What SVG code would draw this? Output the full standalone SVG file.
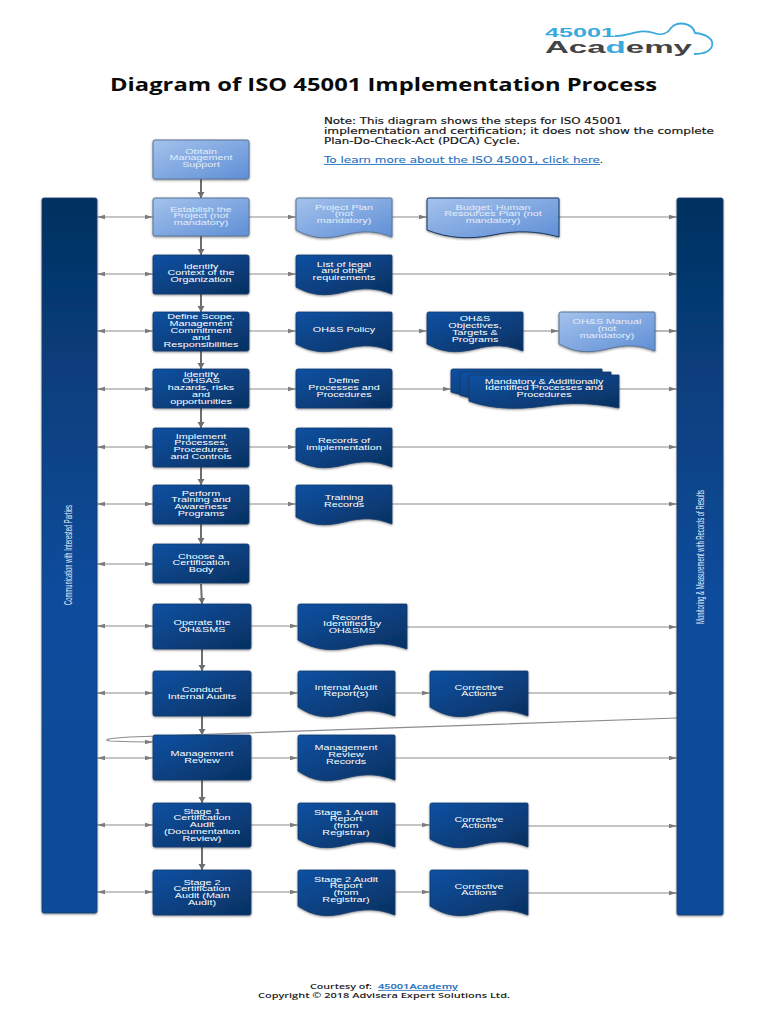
<svg xmlns="http://www.w3.org/2000/svg" width="768" height="1024" viewBox="0 0 768 1024">
<style>
.t{font:7.2px "Liberation Sans",Arial,sans-serif;fill:#fff;text-anchor:middle}
.l{fill:#e3edf9}
.d{fill:url(#dark);stroke:#0d3a70;stroke-width:.8;filter:url(#sh)}
.p{fill:url(#light);stroke:#5b7598;stroke-width:1;filter:url(#sh)}
.pd{fill:url(#light);stroke:#17375f;stroke-width:1;filter:url(#sh)}
.h{fill:none;stroke:#8c8c8c;stroke-width:1.2;marker-end:url(#a)}
.b{marker-start:url(#as)}
.v{fill:none;stroke:#6e6e6e;stroke-width:2;marker-end:url(#va)}
.note{font:8.4px "DejaVu Sans",sans-serif;fill:#111;stroke:#111;stroke-width:.15}
.foot{font:600 7.2px "Open Sans",sans-serif;fill:#222}
.link{fill:#1f6fc0;stroke:#1f6fc0;stroke-width:.1;text-decoration:underline}
.bar{font:11px "Liberation Sans",Arial,sans-serif;fill:#e3edf9;text-anchor:middle}
</style>
<defs>
<linearGradient id="dark" x1="0" y1="0" x2="1" y2="1"><stop offset="0" stop-color="#0a51a3"/><stop offset="1" stop-color="#06305f"/></linearGradient>
<linearGradient id="light" x1="0" y1="0" x2="1" y2="1"><stop offset="0" stop-color="#a4c2ec"/><stop offset="1" stop-color="#5f8fd6"/></linearGradient>
<linearGradient id="barG" x1="0" y1="0" x2="0" y2="1"><stop offset="0" stop-color="#04305f"/><stop offset=".12" stop-color="#06386f"/><stop offset=".55" stop-color="#0a4c9c"/><stop offset="1" stop-color="#0a4c98"/></linearGradient>
<filter id="sh" x="-10%" y="-10%" width="120%" height="125%"><feDropShadow dx="0" dy="1" stdDeviation="1" flood-color="#333" flood-opacity=".55"/></filter>
<marker id="a" markerUnits="userSpaceOnUse" markerWidth="9" markerHeight="6" refX="8" refY="3" orient="auto"><path d="M0 .8L8 3L0 5.2z" fill="#7c7c7c"/></marker>
<marker id="as" markerUnits="userSpaceOnUse" markerWidth="9" markerHeight="6" refX="0" refY="3" orient="auto"><path d="M8 .8L0 3L8 5.2z" fill="#7c7c7c"/></marker>
<marker id="va" markerUnits="userSpaceOnUse" markerWidth="8" markerHeight="8" refX="6" refY="3.5" orient="auto"><path d="M0 0L6 3.5L0 7z" fill="#6e6e6e"/></marker>
</defs>
<rect width="768" height="1024" fill="#fff"/>

<g id="logo">
<path d="M615 36C630 36 640 28 654 33C662 36 668 33 671 28C677 21 692 22 695 33C706 34 714 39 712 46C710 52 702 54 694 54" fill="none" stroke="#3aa9dc" stroke-width="1.8"/>
<text x="545" y="37" font-family="Liberation Sans" font-weight="700" font-size="12" fill="#3aa9dc" textLength="70" lengthAdjust="spacingAndGlyphs">45001</text>
<text x="545" y="53" font-family="Liberation Sans" font-weight="700" font-size="17" fill="#444" textLength="147" lengthAdjust="spacingAndGlyphs">Aca<tspan fill="#3aa9dc">d</tspan>emy</text>
</g>
<text id="title" x="110" y="91" font-family="Open Sans" font-weight="700" font-size="17" fill="#0a0a0a" textLength="547" lengthAdjust="spacingAndGlyphs">Diagram of ISO 45001 Implementation Process</text>
<g id="note">
<text class="note" x="324" y="123.5" textLength="298" lengthAdjust="spacingAndGlyphs">Note: This diagram shows the steps for ISO 45001</text>
<text class="note" x="324" y="133.5" textLength="390" lengthAdjust="spacingAndGlyphs">implementation and certification; it does not show the complete</text>
<text class="note" x="324" y="143.5" textLength="196" lengthAdjust="spacingAndGlyphs">Plan-Do-Check-Act (PDCA) Cycle.</text>
<text class="note link" x="324" y="163" textLength="276" lengthAdjust="spacingAndGlyphs">To learn more about the ISO 45001, click here</text>
<text class="note" x="600" y="163">.</text>
</g>

<g id="connectors">
<path class="v" d="M201 179V198"/><path class="v" d="M201 236V255"/><path class="v" d="M201 294V312"/><path class="v" d="M201 351V369"/><path class="v" d="M201 408V428"/><path class="v" d="M201 467V485"/><path class="v" d="M201 524V544"/><path class="v" d="M201 584L202 604"/><path class="v" d="M202 649V671"/><path class="v" d="M202 716V735"/><path class="v" d="M202 780V803"/><path class="v" d="M202 847V870"/>
<path class="h b" d="M97 217H153"/><path class="h b" d="M97 274H153"/><path class="h b" d="M97 331H153"/><path class="h b" d="M97 389H153"/><path class="h b" d="M97 447H153"/><path class="h b" d="M97 504H153"/><path class="h b" d="M97 564H153"/><path class="h b" d="M97 626H153"/><path class="h b" d="M97 693H153"/><path class="h b" d="M97 758H153"/><path class="h b" d="M97 825H153"/><path class="h b" d="M97 892H153"/>
<path class="h" d="M249 217H296"/><path class="h" d="M392 217H427"/><path class="h" d="M559 217H677"/>
<path class="h" d="M249 274H296"/><path class="h" d="M392 274H677"/>
<path class="h" d="M249 331H296"/><path class="h" d="M392 331H427"/><path class="h" d="M523 331H559"/><path class="h" d="M655 331H677"/>
<path class="h" d="M249 389H296"/><path class="h" d="M392 389H451"/><path class="h" d="M619 389H677"/>
<path class="h" d="M249 447H296"/><path class="h" d="M392 447H677"/>
<path class="h" d="M249 504H296"/><path class="h" d="M392 504H677"/>
<path class="h" d="M251 626H298"/><path class="h" d="M407 627H677"/>
<path class="h" d="M251 693H298"/><path class="h" d="M395 693H430"/><path class="h" d="M528 693H677"/>
<path class="h" d="M251 758H298"/><path class="h" d="M395 758H677"/>
<path class="h" d="M251 825H298"/><path class="h" d="M395 825H430"/><path class="h" d="M528 826H677"/>
<path class="h" d="M251 892H298"/><path class="h" d="M395 892H430"/><path class="h" d="M528 893H677"/>
<path class="h" d="M677 718L130 737Q98 739 110 741Q130 742 153 742"/>
</g>

<g id="bar-left"><rect class="d" style="fill:url(#barG)" x="42" y="198" width="55" height="715" rx="2"/><text class="bar" transform="translate(72 555) rotate(-90)" textLength="100" lengthAdjust="spacingAndGlyphs">Communication with Interested Parties</text></g>
<g id="bar-right"><rect class="d" style="fill:url(#barG)" x="677" y="198" width="46" height="717" rx="2"/><text class="bar" transform="translate(704 557) rotate(-90)" textLength="134" lengthAdjust="spacingAndGlyphs">Monitoring &amp; Measurement with Records of Results</text></g>

<g id="n-obtain"><rect class="p" x="153" y="140" width="96" height="39" rx="2"/><text class="t l" transform="matrix(1.5 0 0 1 201 153.5)"><tspan x="0">Obtain</tspan><tspan x="0" y="7">Management</tspan><tspan x="0" y="14">Support</tspan></text></g>
<g id="n-establish"><rect class="p" x="153" y="198" width="96" height="38" rx="2"/><text class="t l" transform="matrix(1.5 0 0 1 201 211.5)"><tspan x="0">Establish the</tspan><tspan x="0" y="7">Project (not</tspan><tspan x="0" y="14">mandatory)</tspan></text></g>
<g id="n-plan"><path class="p" d="M298 198H391Q392 198 392 199V237c-16-6-28-7-48-2s-33 3-48-5V200Q296 198 298 198z"/><text class="t l" transform="matrix(1.5 0 0 1 344 209.5)"><tspan x="0">Project Plan</tspan><tspan x="0" y="7">(not</tspan><tspan x="0" y="14">mandatory)</tspan></text></g>
<g id="n-budget"><path class="pd" d="M429 198H558Q559 198 559 199V237c-22-6-42-7-66-2s-46 3-66-5V200Q427 198 429 198z"/><text class="t l" transform="matrix(1.5 0 0 1 493 209.5)"><tspan x="0">Budget; Human</tspan><tspan x="0" y="7">Resources Plan (not</tspan><tspan x="0" y="14">mandatory)</tspan></text></g>

<g id="n-context"><rect class="d" x="153" y="255" width="96" height="39" rx="2"/><text class="t" transform="matrix(1.5 0 0 1 201 268.5)"><tspan x="0">Identify</tspan><tspan x="0" y="7">Context of the</tspan><tspan x="0" y="14">Organization</tspan></text></g>
<g id="n-legal"><path class="d" d="M298 255H391Q392 255 392 256V294c-16-6-28-7-48-2s-33 3-48-5V257Q296 255 298 255z"/><text class="t" transform="matrix(1.5 0 0 1 344 266.5)"><tspan x="0">List of legal</tspan><tspan x="0" y="7">and other</tspan><tspan x="0" y="14">requirements</tspan></text></g>

<g id="n-scope"><rect class="d" x="153" y="312" width="96" height="39" rx="2"/><text class="t" transform="matrix(1.5 0 0 1 201 319)"><tspan x="0">Define Scope,</tspan><tspan x="0" y="7">Management</tspan><tspan x="0" y="14">Commitment</tspan><tspan x="0" y="21">and</tspan><tspan x="0" y="28">Responsibilities</tspan></text></g>
<g id="n-policy"><path class="d" d="M298 312H391Q392 312 392 313V351c-16-6-28-7-48-2s-33 3-48-5V314Q296 312 298 312z"/><text class="t" transform="matrix(1.5 0 0 1 344 331.5)">OH&amp;S Policy</text></g>
<g id="n-objectives"><path class="d" d="M429 312H522Q523 312 523 313V351c-16-6-28-7-48-2s-33 3-48-5V314Q427 312 429 312z"/><text class="t" transform="matrix(1.5 0 0 1 475 321)"><tspan x="0">OH&amp;S</tspan><tspan x="0" y="7">Objectives,</tspan><tspan x="0" y="14">Targets &amp;</tspan><tspan x="0" y="21">Programs</tspan></text></g>
<g id="n-manual"><path class="p" d="M561 312H654Q655 312 655 313V351c-16-6-28-7-48-2s-33 3-48-5V314Q559 312 561 312z"/><text class="t l" transform="matrix(1.5 0 0 1 607 324)"><tspan x="0">OH&amp;S  Manual</tspan><tspan x="0" y="7">(not</tspan><tspan x="0" y="14">mandatory)</tspan></text></g>

<g id="n-hazards"><rect class="d" x="153" y="369" width="96" height="39" rx="2"/><text class="t" transform="matrix(1.5 0 0 1 201 376.5)"><tspan x="0">Identify</tspan><tspan x="0" y="7">OHSAS</tspan><tspan x="0" y="14">hazards, risks</tspan><tspan x="0" y="21">and</tspan><tspan x="0" y="28">opportunities</tspan></text></g>
<g id="n-define"><rect class="d" x="296" y="369" width="96" height="39" rx="2"/><text class="t" transform="matrix(1.5 0 0 1 344 383)"><tspan x="0">Define</tspan><tspan x="0" y="7">Processes and</tspan><tspan x="0" y="14">Procedures</tspan></text></g>
<g id="n-stack">
<path class="d" d="M453 369H602V398c-26-5-48-6-75-2s-54 3-76-4V371Q451 369 453 369z"/>
<path class="d" d="M462 372H611V401c-26-5-48-6-75-2s-54 3-76-4V374Q460 372 462 372z"/>
<path class="d" d="M471 375H619V408c-26-5-48-6-75-2s-54 3-75-5V377Q469 375 471 375z"/>
<text class="t" transform="matrix(1.5 0 0 1 544 383.5)"><tspan x="0">Mandatory &amp; Additionally</tspan><tspan x="0" y="7">Identified Processes and</tspan><tspan x="0" y="14">Procedures</tspan></text></g>

<g id="n-implement"><rect class="d" x="153" y="428" width="96" height="39" rx="2"/><text class="t" transform="matrix(1.5 0 0 1 201 438.5)"><tspan x="0">Implement</tspan><tspan x="0" y="7">Processes,</tspan><tspan x="0" y="14">Procedures</tspan><tspan x="0" y="21">and Controls</tspan></text></g>
<g id="n-records"><path class="d" d="M298 428H391Q392 428 392 429V467c-16-6-28-7-48-2s-33 3-48-5V430Q296 428 298 428z"/><text class="t" transform="matrix(1.5 0 0 1 344 443)"><tspan x="0">Records of</tspan><tspan x="0" y="7">imiplementation</tspan></text></g>

<g id="n-training"><rect class="d" x="153" y="485" width="96" height="39" rx="2"/><text class="t" transform="matrix(1.5 0 0 1 201 495.5)"><tspan x="0">Perform</tspan><tspan x="0" y="7">Training and</tspan><tspan x="0" y="14">Awareness</tspan><tspan x="0" y="21">Programs</tspan></text></g>
<g id="n-trecords"><path class="d" d="M298 485H391Q392 485 392 486V524c-16-6-28-7-48-2s-33 3-48-5V487Q296 485 298 485z"/><text class="t" transform="matrix(1.5 0 0 1 344 500)"><tspan x="0">Training</tspan><tspan x="0" y="7">Records</tspan></text></g>

<g id="n-choose"><rect class="d" x="153" y="544" width="96" height="39" rx="2"/><text class="t" transform="matrix(1.5 0 0 1 201 558.5)"><tspan x="0">Choose a</tspan><tspan x="0" y="7">Certification</tspan><tspan x="0" y="14">Body</tspan></text></g>

<g id="n-operate"><rect class="d" x="153" y="604" width="98" height="45" rx="2"/><text class="t" transform="matrix(1.5 0 0 1 202 625)"><tspan x="0">Operate the</tspan><tspan x="0" y="7">OH&amp;SMS</tspan></text></g>
<g id="n-orecords"><path class="d" d="M300 604H406Q407 604 407 605V649c-18-6-32-7-54-2s-38 3-55-7V606Q298 604 300 604z"/><text class="t" transform="matrix(1.5 0 0 1 352 619.5)"><tspan x="0">Records</tspan><tspan x="0" y="7">Identified by</tspan><tspan x="0" y="14">OH&amp;SMS</tspan></text></g>

<g id="n-audit"><rect class="d" x="153" y="671" width="98" height="45" rx="2"/><text class="t" transform="matrix(1.5 0 0 1 202 692)"><tspan x="0">Conduct</tspan><tspan x="0" y="7">Internal Audits</tspan></text></g>
<g id="n-areport"><path class="d" d="M300 671H394Q395 671 395 672V716c-16-6-29-7-49-2s-33 3-48-7V673Q298 671 300 671z"/><text class="t" transform="matrix(1.5 0 0 1 346 689.5)"><tspan x="0">Internal Audit</tspan><tspan x="0" y="7">Report(s)</tspan></text></g>
<g id="n-ca1"><path class="d" d="M432 671H527Q528 671 528 672V716c-16-6-29-7-49-2s-33 3-49-7V673Q430 671 432 671z"/><text class="t" transform="matrix(1.5 0 0 1 479 689.5)"><tspan x="0">Corrective</tspan><tspan x="0" y="7">Actions</tspan></text></g>

<g id="n-review"><rect class="d" x="153" y="735" width="98" height="45" rx="2"/><text class="t" transform="matrix(1.5 0 0 1 202 756)"><tspan x="0">Management</tspan><tspan x="0" y="7">Review</tspan></text></g>
<g id="n-rrecords"><path class="d" d="M300 735H394Q395 735 395 736V780c-16-6-29-7-49-2s-33 3-48-7V737Q298 735 300 735z"/><text class="t" transform="matrix(1.5 0 0 1 346 750)"><tspan x="0">Management</tspan><tspan x="0" y="7">Review</tspan><tspan x="0" y="14">Records</tspan></text></g>

<g id="n-stage1"><rect class="d" x="153" y="803" width="98" height="44" rx="2"/><text class="t" transform="matrix(1.5 0 0 1 202 813.5)"><tspan x="0">Stage 1</tspan><tspan x="0" y="7">Certification</tspan><tspan x="0" y="14">Audit</tspan><tspan x="0" y="21">(Documentation</tspan><tspan x="0" y="28">Review)</tspan></text></g>
<g id="n-s1report"><path class="d" d="M300 803H394Q395 803 395 804V847c-16-6-29-7-49-2s-33 3-48-6V805Q298 803 300 803z"/><text class="t" transform="matrix(1.5 0 0 1 346 814.5)"><tspan x="0">Stage 1 Audit</tspan><tspan x="0" y="7">Report</tspan><tspan x="0" y="14">(from</tspan><tspan x="0" y="21">Registrar)</tspan></text></g>
<g id="n-ca2"><path class="d" d="M432 803H527Q528 803 528 804V847c-16-6-29-7-49-2s-33 3-49-6V805Q430 803 432 803z"/><text class="t" transform="matrix(1.5 0 0 1 479 821.5)"><tspan x="0">Corrective</tspan><tspan x="0" y="7">Actions</tspan></text></g>

<g id="n-stage2"><rect class="d" x="153" y="870" width="98" height="45" rx="2"/><text class="t" transform="matrix(1.5 0 0 1 202 884.5)"><tspan x="0">Stage 2</tspan><tspan x="0" y="7">Certification</tspan><tspan x="0" y="14">Audit (Main</tspan><tspan x="0" y="21">Audit)</tspan></text></g>
<g id="n-s2report"><path class="d" d="M300 870H394Q395 870 395 871V915c-16-6-29-7-49-2s-33 3-48-7V872Q298 870 300 870z"/><text class="t" transform="matrix(1.5 0 0 1 346 881.5)"><tspan x="0">Stage 2 Audit</tspan><tspan x="0" y="7">Report</tspan><tspan x="0" y="14">(from</tspan><tspan x="0" y="21">Registrar)</tspan></text></g>
<g id="n-ca3"><path class="d" d="M432 870H527Q528 870 528 871V915c-16-6-29-7-49-2s-33 3-49-7V872Q430 870 432 870z"/><text class="t" transform="matrix(1.5 0 0 1 479 888.5)"><tspan x="0">Corrective</tspan><tspan x="0" y="7">Actions</tspan></text></g>

<g id="footer">
<text class="foot" x="310" y="989" textLength="62" lengthAdjust="spacingAndGlyphs">Courtesy of:</text>
<text class="foot link" x="378" y="989" textLength="80" lengthAdjust="spacingAndGlyphs">45001Academy</text>
<text class="foot" x="258" y="998" textLength="252" lengthAdjust="spacingAndGlyphs">Copyright © 2018 Advisera Expert Solutions Ltd.</text>
</g>
</svg>
